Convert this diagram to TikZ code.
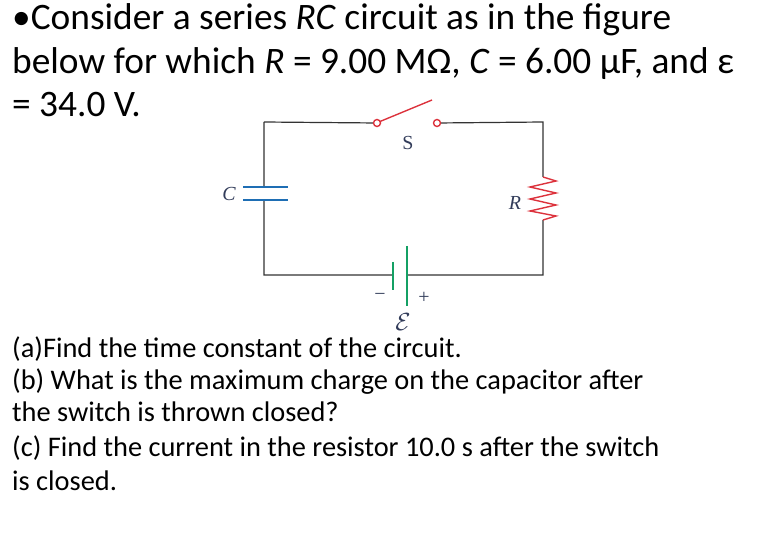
\documentclass[tikz,border=0pt]{standalone}
\usepackage{fontspec}
\setmainfont{Carlito}
\newfontfamily\circfont{Liberation Serif}
\begin{document}
\begin{tikzpicture}[x=1bp,y=-1bp,
  wire/.style={line width=1.2pt,black!80},
  big/.style={anchor=base west,inner sep=0,font=\fontsize{37.5}{42}\selectfont},
  small/.style={anchor=base west,inner sep=0,font=\fontsize{28.5}{32}\selectfont},
  lab/.style={inner sep=0,text={rgb,255:red,50;green,60;blue,90},font=\circfont\fontsize{20}{24}\selectfont},
  red1/.style={color={rgb,255:red,220;green,50;blue,60},line width=1.4pt},
  blue1/.style={color={rgb,255:red,30;green,110;blue,180},line width=2.2pt},
  green1/.style={color={rgb,255:red,20;green,160;blue,100},line width=2pt}]
\useasboundingbox (0,0) rectangle (770,547);
\node[big] (t1) at (12,30) {•Consider a series \textit{RC} circuit as in the figure};
\node[big] (t2) at (12,74) {below for which \textit{R} = 9.00 MΩ, \textit{C} = 6.00 μF, and ε};
\node[big] (t3) at (12,117) {= 34.0 V.};
% circuit
\coordinate (tl) at (264,122); \coordinate (tr) at (543,122);
\coordinate (bl) at (264,275); \coordinate (br) at (543,275);
\coordinate (sl) at (377,123); \coordinate (sr) at (437,123);
\draw[wire] (tl) -- (sl) (sr) -- (tr) -- (543,177) (543,220) -- (br) -- (407,275)
  (393,275) -- (bl) -- (264,200) (264,187) -- (tl);
\draw[red1,fill=white] (sl) circle (3.5);
\draw[red1,fill=white] (sr) circle (3.5);
\draw[red1] (380,121.5) -- (432,100);
\draw[red1,line join=miter] (543,177) -- (556,181) -- (530,187) -- (556,193) -- (530,199) -- (556,205) -- (530,211) -- (556,216) -- (543,220);
\draw[blue1] (243,187) -- (288,187) (243,200) -- (288,200);
\draw[green1] (393,262) -- (393,290) (407,246) -- (407,306);
\node[lab] (S) at (408,143) {S};
\node[lab] (C) at (229,194) {\itshape C};
\node[lab] (R) at (515,203) {\itshape R};
\node[lab] (m) at (380,297) {−};
\node[lab] (p) at (424,298) {+};
\node[lab,font=\fontsize{24}{26}\selectfont] (e) at (403,322) {$\mathcal{E}$};
\node[small] (a) at (12,357) {(a)Find the time constant of the circuit.};
\node[small] (b1) at (12,389) {(b) What is the maximum charge on the capacitor after};
\node[small] (b2) at (12,421) {the switch is thrown closed?};
\node[small] (c1) at (12,456) {(c) Find the current in the resistor 10.0 s after the switch};
\node[small] (c2) at (12,490) {is closed.};
\end{tikzpicture}
\end{document}
